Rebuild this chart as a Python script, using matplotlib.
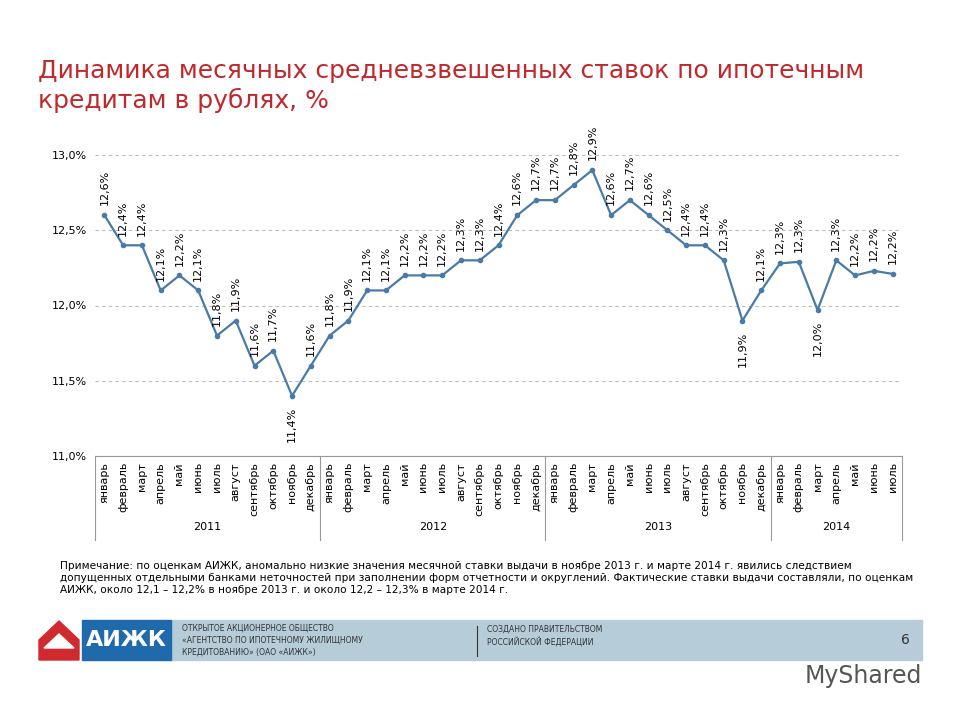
import matplotlib
matplotlib.use("Agg")
import matplotlib.pyplot as plt
from matplotlib.patches import Rectangle, Polygon
from matplotlib.lines import Line2D

months = ["январь","февраль","март","апрель","май","июнь","июль","август",
          "сентябрь","октябрь","ноябрь","декабрь"]
years = ["2011", "2012", "2013", "2014"]
months_per_year = [12, 12, 12, 7]
values = [12.6, 12.4, 12.4, 12.1, 12.2, 12.1, 11.8, 11.9, 11.6, 11.7, 11.4, 11.6,
          11.8, 11.9, 12.1, 12.1, 12.2, 12.2, 12.2, 12.3, 12.3, 12.4, 12.6, 12.7,
          12.7, 12.8, 12.9, 12.6, 12.7, 12.6, 12.5, 12.4, 12.4, 12.3, 11.9, 12.1,
          12.28, 12.29, 11.97, 12.3, 12.2, 12.23, 12.21]
labels = ["12,6%","12,4%","12,4%","12,1%","12,2%","12,1%","11,8%","11,9%","11,6%","11,7%","11,4%","11,6%",
          "11,8%","11,9%","12,1%","12,1%","12,2%","12,2%","12,2%","12,3%","12,3%","12,4%","12,6%","12,7%",
          "12,7%","12,8%","12,9%","12,6%","12,7%","12,6%","12,5%","12,4%","12,4%","12,3%","11,9%","12,1%",
          "12,3%","12,3%","12,0%","12,3%","12,2%","12,2%","12,2%"]
below = {10, 34, 38}
yticks = [11.0, 11.5, 12.0, 12.5, 13.0]
ytick_labels = ["11,0%", "11,5%", "12,0%", "12,5%", "13,0%"]

W, H = 960, 720
fig = plt.figure(figsize=(9.6, 7.2), dpi=100)
def fx(x): return x / W
def fy(y): return 1 - y / H

fig.text(fx(38), fy(86), "Динамика месячных средневзвешенных ставок по ипотечным\nкредитам в рублях, %",
         color="#c0282d", fontsize=18, va="center", ha="left", linespacing=1.2)

ax = fig.add_axes([fx(95), fy(456), fx(902) - fx(95), fy(155) - fy(456)])
n = len(values)
xs = list(range(n))
ax.plot(xs, values, color="#4a7aa8", lw=1.6, marker="o", ms=3)
ax.set_xlim(-0.5, n - 0.5)
ax.set_ylim(11.0, 13.0)
ax.set_yticks(yticks)
ax.set_yticklabels(ytick_labels, fontsize=8)
ax.set_xticks([])
ax.grid(axis="y", ls=(0, (3, 3)), color="#bbbbbb", lw=0.8)
ax.tick_params(axis="y", length=0, pad=6)
for s in ["top", "right", "left"]:
    ax.spines[s].set_visible(False)
ax.spines["bottom"].set_color("#999999")

for i, (v, lab) in enumerate(zip(values, labels)):
    if i in below:
        ax.annotate(lab, (i, v), xytext=(0, -8), textcoords="offset points", rotation=90,
                    ha="center", va="top", fontsize=8)
    else:
        ax.annotate(lab, (i, v), xytext=(0, 7), textcoords="offset points", rotation=90,
                    ha="center", va="bottom", fontsize=8)

tr = ax.get_xaxis_transform()
k = 0
for yi, (yr, m) in enumerate(zip(years, months_per_year)):
    start = k
    for j in range(m):
        ax.text(k, -0.02, months[j], transform=tr, rotation=90, ha="center", va="top", fontsize=8)
        k += 1
    ax.text((start + k - 1) / 2, -(521 - 456) / 301 - 0.02, yr, transform=tr, ha="center", va="center", fontsize=8)
    ax.add_line(Line2D([start - 0.5, start - 0.5], [0, -(540 - 456) / 301], transform=tr,
                       color="#999999", lw=0.8, clip_on=False))
ax.add_line(Line2D([n - 0.5, n - 0.5], [0, -(540 - 456) / 301], transform=tr,
                   color="#999999", lw=0.8, clip_on=False))

fig.text(fx(60), fy(578), "Примечание: по оценкам АИЖК, аномально низкие значения месячной ставки выдачи в ноябре 2013 г. и марте 2014 г. явились следствием\n"
         "допущенных отдельными банками неточностей при заполнении форм отчетности и округлений. Фактические ставки выдачи составляли, по оценкам\n"
         "АИЖК, около 12,1 – 12,2% в ноябре 2013 г. и около 12,2 – 12,3% в марте 2014 г.",
         fontsize=7.6, va="center", ha="left", linespacing=1.3)

# footer
fig.patches.append(Rectangle((fx(171), fy(660)), fx(922) - fx(171), fy(620) - fy(660),
                             transform=fig.transFigure, color="#b6cdd9"))
fig.patches.append(Rectangle((fx(82), fy(660)), fx(171) - fx(82), fy(620) - fy(660),
                             transform=fig.transFigure, color="#1f6aad"))
fig.patches.append(Polygon([(fx(39), fy(640)), (fx(59), fy(621)), (fx(79), fy(640)), (fx(79), fy(660)), (fx(39), fy(660))],
                           closed=True, transform=fig.transFigure, color="#d12a2e"))
fig.patches.append(Polygon([(fx(44), fy(648)), (fx(59), fy(634)), (fx(74), fy(648))],
                           closed=True, transform=fig.transFigure, color="white"))
fig.text(fx(126), fy(640), "АИЖК", color="white", fontsize=16, fontweight="bold", ha="center", va="center")
fig.text(fx(182), fy(640), "ОТКРЫТОЕ АКЦИОНЕРНОЕ ОБЩЕСТВО\n«АГЕНТСТВО ПО ИПОТЕЧНОМУ ЖИЛИЩНОМУ\nКРЕДИТОВАНИЮ» (ОАО «АИЖК»)",
         fontsize=5.5, color="#333333", va="center", ha="left", linespacing=1.4)
fig.add_artist(Line2D([fx(477), fx(477)], [fy(626), fy(656)], color="#333333", lw=0.8))
fig.text(fx(487), fy(636), "СОЗДАНО ПРАВИТЕЛЬСТВОМ\nРОССИЙСКОЙ ФЕДЕРАЦИИ", fontsize=5.5, color="#333333",
         va="center", ha="left", linespacing=1.4)
fig.text(fx(905), fy(640), "6", fontsize=10, color="#333333", ha="center", va="center")
fig.text(fx(922), fy(676), "MyShared", fontsize=17, color="#555555", ha="right", va="center")

fig.savefig("out.png", dpi=100)
